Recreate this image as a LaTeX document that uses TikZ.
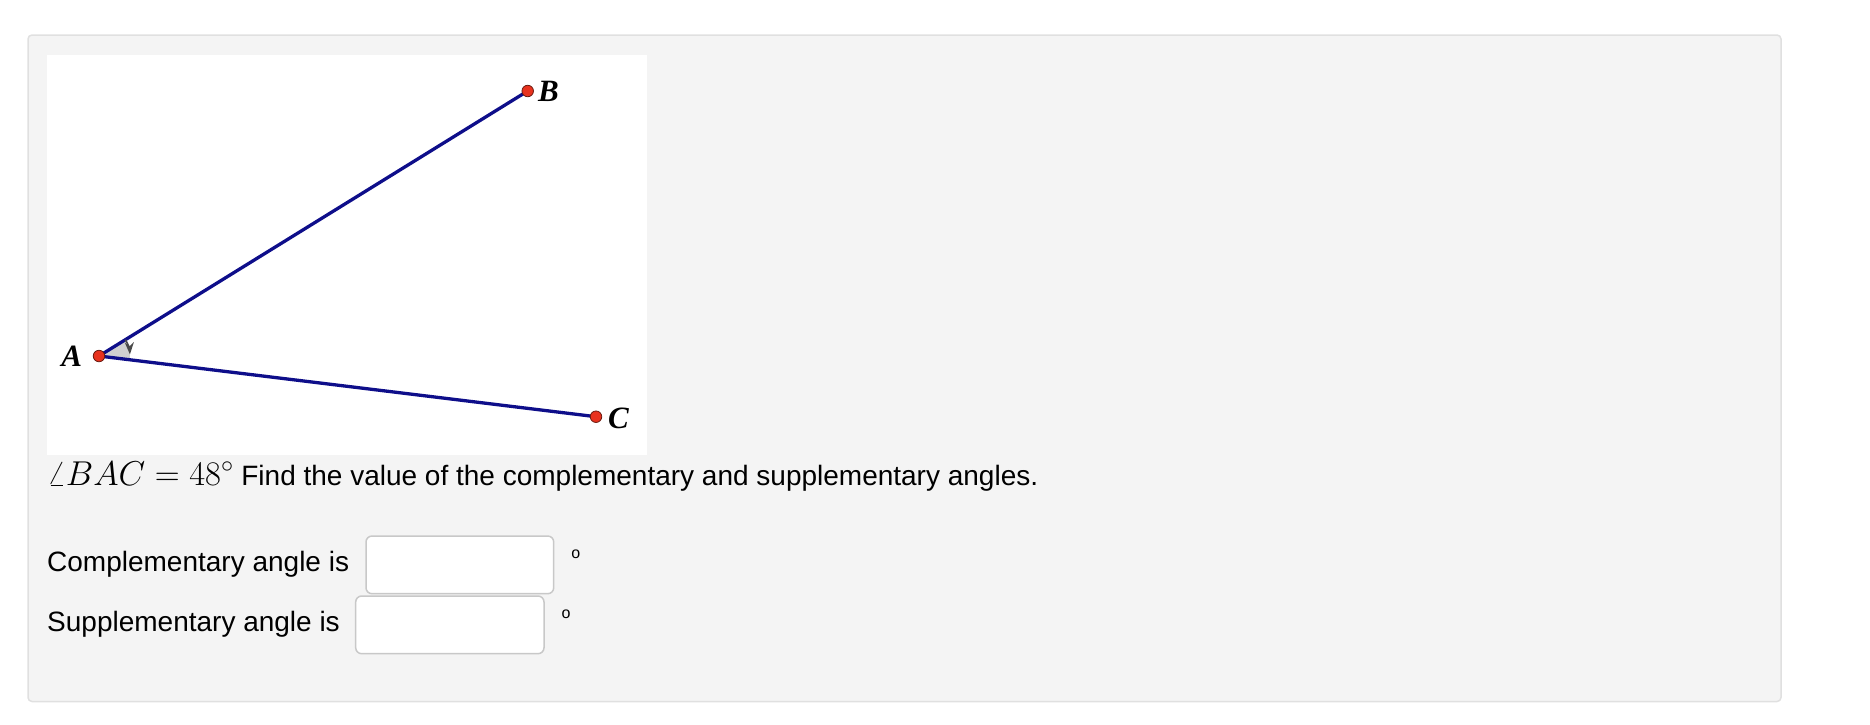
\RequirePackage{fix-cm}
\documentclass[tikz,border=0pt]{standalone}
\usepackage{fontspec}
\setmainfont{Liberation Sans}
\newfontfamily\labelfont{Liberation Serif}
\usetikzlibrary{arrows.meta}
\definecolor{panelbg}{HTML}{F4F4F4}
\definecolor{panelbd}{HTML}{E0E0E0}
\definecolor{boxbd}{HTML}{C8C8C8}
\definecolor{segblue}{HTML}{0E0E8A}
\definecolor{ptred}{HTML}{E8321E}
\definecolor{ptedge}{HTML}{6A1A10}
\definecolor{markgray}{HTML}{D0D0D0}
\definecolor{arrowgray}{HTML}{4A4A4A}
\tikzset{
  seg/.style={draw=segblue, line width=3.3pt},
  pt/.style={circle, fill=ptred, draw=ptedge, line width=0.8pt, minimum size=11.5pt, inner sep=0pt},
  ptlabel/.style={font=\labelfont\bfseries\itshape\fontsize{31}{36}\selectfont, inner sep=0pt},
  bodytext/.style={font=\fontsize{28}{34}\selectfont, anchor=base west, inner sep=0pt},
  inbox/.style={draw=boxbd, fill=white, line width=1.5pt, rounded corners=6pt},
  degmark/.style={font=\fontsize{16}{18}\selectfont, inner sep=0pt}
}
\begin{document}
\begin{tikzpicture}[x=1pt, y=-1pt]
\useasboundingbox (0,0) rectangle (1870,724);
% panel
\draw[draw=panelbd, fill=panelbg, line width=1.5pt, rounded corners=4pt] (28,35) rectangle (1781,701.5);
% figure area
\fill[white] (47,55) rectangle (647,455);
% points
\coordinate (A) at (99,356);
\coordinate (B) at (527.7,91);
\coordinate (C) at (596,416.7);
% angle marker
\fill[markgray] (A) -- ++(31.7:31pt) arc[start angle=31.7, end angle=-7, radius=31pt] -- cycle;
\draw[seg] (A) -- (B);
\draw[seg] (A) -- (C);
\draw[arrowgray, line width=1.6pt, -{Stealth[length=12pt,width=9pt]}] (A) ++(31.7:31pt) arc[start angle=31.7, end angle=3, radius=31pt];
\node[pt] (pA) at (A) {};
\node[pt] (pB) at (B) {};
\node[pt] (pC) at (C) {};
\node[ptlabel] (lA) at (71.7,356.5) {A};
\node[ptlabel] (lB) at (548.5,91) {B};
\node[ptlabel] (lC) at (618.5,418) {C};
% question text
\node[bodytext] (q) at (47,485) {{\fontsize{34.5}{40}\selectfont$\angle BAC = 48^\circ$} Find the value of the complementary and supplementary angles.};
% answers
\node[bodytext] (comp) at (47,571) {Complementary angle is};
\node[bodytext] (supp) at (47,631.5) {Supplementary angle is};
\draw[inbox] (366,536) rectangle (553.7,593.7);
\draw[inbox] (355.7,596) rectangle (544,653.7);
\node[degmark] (d1) at (575.7,554.3) {o};
\node[degmark] (d2) at (566,614.3) {o};
\end{tikzpicture}
\end{document}
